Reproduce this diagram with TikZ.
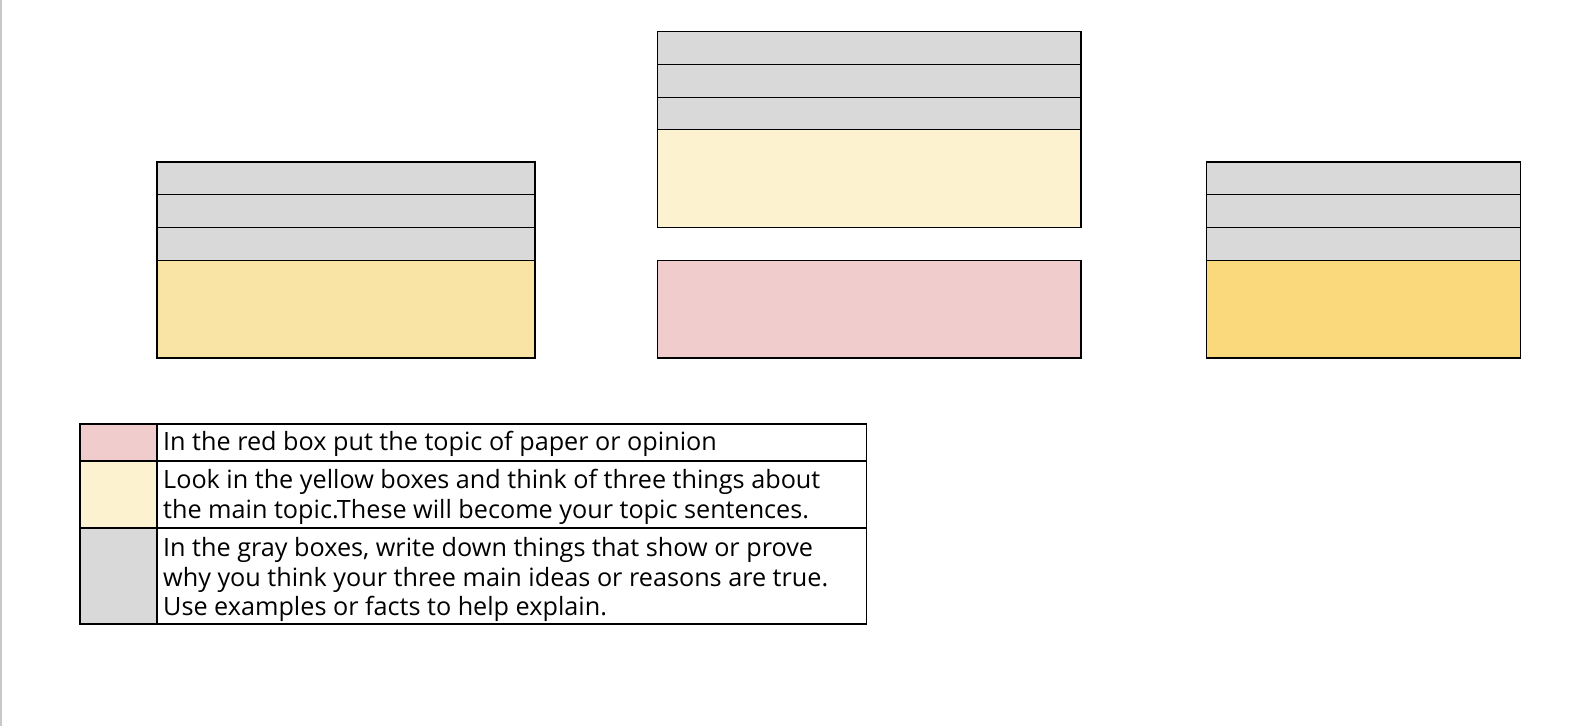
\documentclass[tikz,border=0pt]{standalone}
\usepackage{fontspec}
\setmainfont{Open Sans}
\definecolor{boxgray}{HTML}{D9D9D9}
\definecolor{yelA}{HTML}{F9E4A5}
\definecolor{yelB}{HTML}{FDF2D0}
\definecolor{yelC}{HTML}{F9D97B}
\definecolor{pinkbox}{HTML}{F0CCCC}
\definecolor{edgegray}{HTML}{C8C8C8}
\begin{document}
\begin{tikzpicture}[x=1pt,y=-1pt,
  cell/.style={draw=black, line width=1.4pt},
  legendtext/.style={anchor=north west, inner sep=0pt, align=left,
    font=\fontsize{25.2}{29.4}\selectfont}]
\useasboundingbox (0,0) rectangle (1588,726);
\fill[white] (0,0) rectangle (1588,726);
\draw[edgegray, line width=2pt] (1,0) -- (1,726);
% left group
\path[cell, fill=boxgray] (157,162.1) rectangle (535,194.5) node[midway] (lg1) {};
\path[cell, fill=boxgray] (157,194.5) rectangle (535,227.5) node[midway] (lg2) {};
\path[cell, fill=boxgray] (157,227.5) rectangle (535,260.4) node[midway] (lg3) {};
\path[cell, fill=yelA] (157,260.4) rectangle (535,357.8) node[midway] (ly) {};
% center group
\path[cell, fill=boxgray] (657.6,31.5) rectangle (1081,64.2) node[midway] (cg1) {};
\path[cell, fill=boxgray] (657.6,64.2) rectangle (1081,97.2) node[midway] (cg2) {};
\path[cell, fill=boxgray] (657.6,97.2) rectangle (1081,129.7) node[midway] (cg3) {};
\path[cell, fill=yelB] (657.6,129.7) rectangle (1081,227.5) node[midway] (cy) {};
\path[cell, fill=pinkbox] (657.6,260.4) rectangle (1081,358) node[midway] (cp) {};
% right group
\path[cell, fill=boxgray] (1206.7,162.1) rectangle (1520.5,194.5) node[midway] (rg1) {};
\path[cell, fill=boxgray] (1206.7,194.5) rectangle (1520.5,227.5) node[midway] (rg2) {};
\path[cell, fill=boxgray] (1206.7,227.5) rectangle (1520.5,260.4) node[midway] (rg3) {};
\path[cell, fill=yelC] (1206.7,260.4) rectangle (1520.5,357.8) node[midway] (ry) {};
% legend
\path[cell, fill=pinkbox] (80,423.8) rectangle (157,461);
\path[cell, fill=yelB] (80,461) rectangle (157,527.8);
\path[cell, fill=boxgray] (80,527.8) rectangle (157,623.8);
\path[cell] (157,423.8) rectangle (866.3,461);
\path[cell] (157,461) rectangle (866.3,527.8);
\path[cell] (157,527.8) rectangle (866.3,623.8);
\node[legendtext] (t1) at (163,431.5) {In the red box put the topic of paper or opinion};
\node[legendtext] (t2) at (163,469.3) {Look in the yellow boxes and think of three things about\\the main topic.These will become your topic sentences.};
\node[legendtext] (t3) at (163,537.5) {In the gray boxes, write down things that show or prove\\why you think your three main ideas or reasons are true.\\Use examples or facts to help explain.};
\end{tikzpicture}
\end{document}
